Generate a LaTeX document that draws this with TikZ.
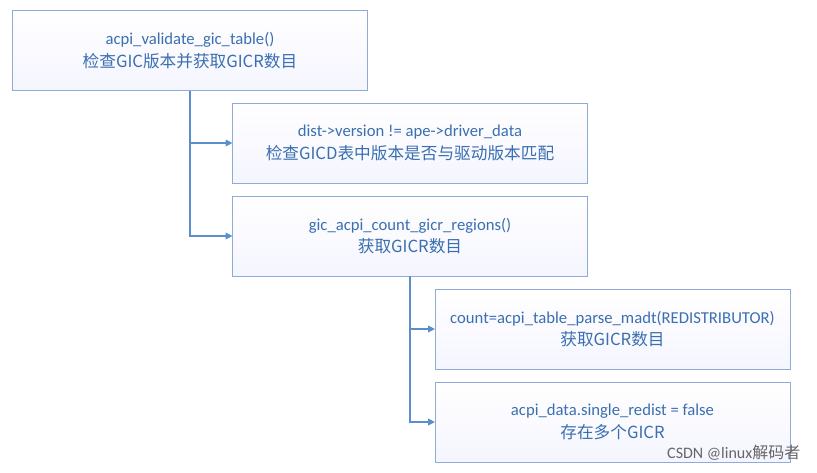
\documentclass[tikz,border=0pt]{standalone}
\usepackage{fontspec}
\setmainfont{Carlito}
\newfontfamily\cjk{Noto Sans CJK SC}
\usetikzlibrary{arrows.meta,shadings}
\definecolor{boxline}{HTML}{8FACD6}
\definecolor{boxtext}{HTML}{3A6FB0}
\definecolor{linkline}{HTML}{5B8FCB}
\begin{document}
\begin{tikzpicture}
        [
            x=0.75pt, y=-0.75pt,
            callbox/.style = {shape=rectangle, draw=boxline, align=center,
                            top color=white, bottom color=blue!4,
                            minimum width=266pt, minimum height=60pt,
                            text=boxtext, font=\fontsize{12.5}{17}\selectfont},
            link/.style  = {draw=linkline, line width=0.9pt, -{Triangle[length=5pt,width=5pt]}},
            ]
            \useasboundingbox (0,0) rectangle (817,472);
            \node [callbox] (validate) at (190,50.5)  {acpi\_validate\_gic\_table()\\{\cjk 检查GIC版本并获取GICR数目}};
            \node [callbox] (version)  at (410,143)   {dist->version != ape->driver\_data\\{\cjk 检查GICD表中版本是否与驱动版本匹配}};
            \node [callbox] (count)    at (410,236)   {gic\_acpi\_count\_gicr\_regions()\\{\cjk 获取GICR数目}};
            \node [callbox] (parse)    at (612.5,329) {count=acpi\_table\_parse\_madt(REDISTRIBUTOR)\\{\cjk 获取GICR数目}};
            \node [callbox] (redist)   at (612.5,422) {acpi\_data.single\_redist = false\\{\cjk 存在多个GICR}};
            \draw [link] (validate.south) |- (version.west);
            \draw [link] (validate.south) |- (count.west);
            \draw [link] (count.south) |- (parse.west);
            \draw [link] (count.south) |- (redist.west);
            \node [anchor=east, text=black!60, font=\fontsize{12}{14}\selectfont] (mark) at (805,453) {CSDN @linux{\cjk 解码者}};
        \end{tikzpicture}
\end{document}
